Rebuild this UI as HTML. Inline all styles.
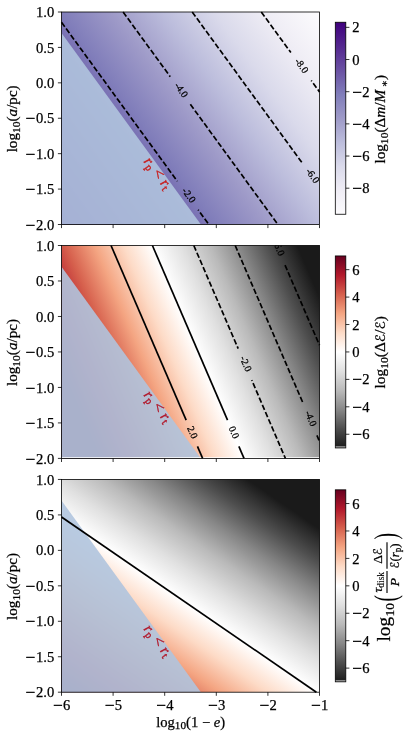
<!DOCTYPE html>
<html><head><meta charset="utf-8"><title>figure</title>
<style>html,body{margin:0;padding:0;background:#fff}svg{display:block;font-family:"Liberation Serif","DejaVu Serif",serif}text{stroke:#000;stroke-width:.25px}</style>
</head><body>
<svg width="411" height="738" viewBox="0 0 411 738">
<defs><linearGradient id="g1" gradientUnits="userSpaceOnUse" x1="228.60" y1="-109.72" x2="-40.82" y2="86.54"><stop offset="0.0000" stop-color="#fcfbfd"/><stop offset="0.1250" stop-color="#efedf5"/><stop offset="0.2500" stop-color="#dadaeb"/><stop offset="0.3750" stop-color="#bcbddc"/><stop offset="0.5000" stop-color="#9e9ac8"/><stop offset="0.6250" stop-color="#807dba"/><stop offset="0.7500" stop-color="#6a51a3"/><stop offset="0.8750" stop-color="#54278f"/><stop offset="1.0000" stop-color="#3f007d"/></linearGradient><linearGradient id="g2" gradientUnits="userSpaceOnUse" x1="260.49" y1="159.90" x2="15.97" y2="265.09"><stop offset="0.0000" stop-color="#1a1a1a"/><stop offset="0.1000" stop-color="#4d4d4d"/><stop offset="0.2000" stop-color="#878787"/><stop offset="0.3000" stop-color="#bababa"/><stop offset="0.4000" stop-color="#e0e0e0"/><stop offset="0.5000" stop-color="#ffffff"/><stop offset="0.6000" stop-color="#fddbc7"/><stop offset="0.7000" stop-color="#f4a582"/><stop offset="0.8000" stop-color="#d6604d"/><stop offset="0.9000" stop-color="#b2182b"/><stop offset="1.0000" stop-color="#67001f"/></linearGradient><linearGradient id="g3" gradientUnits="userSpaceOnUse" x1="121.19" y1="392.58" x2="-33.28" y2="617.38"><stop offset="0.0000" stop-color="#1a1a1a"/><stop offset="0.1000" stop-color="#4d4d4d"/><stop offset="0.2000" stop-color="#878787"/><stop offset="0.3000" stop-color="#bababa"/><stop offset="0.4000" stop-color="#e0e0e0"/><stop offset="0.5000" stop-color="#ffffff"/><stop offset="0.6000" stop-color="#fddbc7"/><stop offset="0.7000" stop-color="#f4a582"/><stop offset="0.8000" stop-color="#d6604d"/><stop offset="0.9000" stop-color="#b2182b"/><stop offset="1.0000" stop-color="#67001f"/></linearGradient><linearGradient id="c1" gradientUnits="userSpaceOnUse" x1="0" y1="214.25" x2="0" y2="22.25"><stop offset="0.0000" stop-color="#fcfbfd"/><stop offset="0.1250" stop-color="#efedf5"/><stop offset="0.2500" stop-color="#dadaeb"/><stop offset="0.3750" stop-color="#bcbddc"/><stop offset="0.5000" stop-color="#9e9ac8"/><stop offset="0.6250" stop-color="#807dba"/><stop offset="0.7500" stop-color="#6a51a3"/><stop offset="0.8750" stop-color="#54278f"/><stop offset="1.0000" stop-color="#3f007d"/></linearGradient><linearGradient id="c2" gradientUnits="userSpaceOnUse" x1="0" y1="447.95" x2="0" y2="255.95"><stop offset="0.0000" stop-color="#1a1a1a"/><stop offset="0.1000" stop-color="#4d4d4d"/><stop offset="0.2000" stop-color="#878787"/><stop offset="0.3000" stop-color="#bababa"/><stop offset="0.4000" stop-color="#e0e0e0"/><stop offset="0.5000" stop-color="#ffffff"/><stop offset="0.6000" stop-color="#fddbc7"/><stop offset="0.7000" stop-color="#f4a582"/><stop offset="0.8000" stop-color="#d6604d"/><stop offset="0.9000" stop-color="#b2182b"/><stop offset="1.0000" stop-color="#67001f"/></linearGradient><linearGradient id="c3" gradientUnits="userSpaceOnUse" x1="0" y1="681.83" x2="0" y2="489.83"><stop offset="0.0000" stop-color="#1a1a1a"/><stop offset="0.1000" stop-color="#4d4d4d"/><stop offset="0.2000" stop-color="#878787"/><stop offset="0.3000" stop-color="#bababa"/><stop offset="0.4000" stop-color="#e0e0e0"/><stop offset="0.5000" stop-color="#ffffff"/><stop offset="0.6000" stop-color="#fddbc7"/><stop offset="0.7000" stop-color="#f4a582"/><stop offset="0.8000" stop-color="#d6604d"/><stop offset="0.9000" stop-color="#b2182b"/><stop offset="1.0000" stop-color="#67001f"/></linearGradient><clipPath id="clip0"><rect x="61.5" y="12.0" width="258.0" height="212.5"/></clipPath><clipPath id="clip1"><rect x="61.5" y="245.5" width="258.0" height="212.9"/></clipPath><clipPath id="clip2"><rect x="61.5" y="479.45" width="258.0" height="212.75"/></clipPath></defs>
<rect width="411" height="738" fill="#fff"/>
<rect x="61.5" y="12.0" width="258.0" height="212.5" fill="url(#g1)"/>
<polygon points="61.50,33.11 200.92,224.50 61.50,224.50" fill="#b0c4de" fill-opacity="0.9"/>
<rect x="61.5" y="245.5" width="258.0" height="212.9" fill="url(#g2)"/>
<polygon points="61.50,266.65 200.92,458.40 61.50,458.40" fill="#b0c4de" fill-opacity="0.9"/>
<rect x="61.5" y="457.10" width="258.0" height="1.3" fill="#fff" fill-opacity="0.85"/>
<rect x="61.5" y="479.45" width="258.0" height="212.75" fill="url(#g3)"/>
<polygon points="61.50,500.58 200.92,692.20 61.50,692.20" fill="#b0c4de" fill-opacity="0.9"/>
<line x1="61.50" y1="22.27" x2="177.38" y2="181.34" stroke="#000" stroke-width="1.7" stroke-dasharray="5.5 2.35"/>
<line x1="198.10" y1="209.79" x2="208.82" y2="224.50" stroke="#000" stroke-width="1.7" stroke-dasharray="5.5 2.35" stroke-dashoffset="4.5"/>
<g clip-path="url(#clip0)"><text transform="translate(188.03,195.97) rotate(53.93)" x="0" y="2.20" font-size="10" text-anchor="middle">-2.0</text></g>
<line x1="123.11" y1="12.00" x2="170.22" y2="76.66" stroke="#000" stroke-width="1.7" stroke-dasharray="5.5 2.35"/>
<line x1="190.35" y1="104.31" x2="277.91" y2="224.50" stroke="#000" stroke-width="1.7" stroke-dasharray="5.5 2.35"/>
<g clip-path="url(#clip0)"><text transform="translate(180.40,90.65) rotate(53.93)" x="0" y="2.20" font-size="10" text-anchor="middle">-4.0</text></g>
<line x1="192.21" y1="12.00" x2="301.73" y2="162.34" stroke="#000" stroke-width="1.7" stroke-dasharray="5.5 2.35"/>
<g clip-path="url(#clip0)"><text transform="translate(311.85,176.24) rotate(53.93)" x="0" y="2.20" font-size="10" text-anchor="middle">-6.0</text></g>
<line x1="261.30" y1="12.00" x2="290.86" y2="52.58" stroke="#000" stroke-width="1.7" stroke-dasharray="5.5 2.35"/>
<line x1="311.23" y1="80.54" x2="319.50" y2="91.89" stroke="#000" stroke-width="1.7" stroke-dasharray="5.5 2.35" stroke-dashoffset="4.5"/>
<g clip-path="url(#clip0)"><text transform="translate(300.81,66.24) rotate(53.93)" x="0" y="2.20" font-size="10" text-anchor="middle">-8.0</text></g>
<line x1="111.03" y1="245.50" x2="186.15" y2="420.13" stroke="#000" stroke-width="1.7"/>
<line x1="197.46" y1="446.40" x2="202.62" y2="458.40" stroke="#000" stroke-width="1.7"/>
<g clip-path="url(#clip1)"><text transform="translate(191.61,432.80) rotate(66.72)" x="0" y="2.20" font-size="10" text-anchor="middle">2.0</text></g>
<line x1="152.43" y1="245.50" x2="227.55" y2="420.13" stroke="#000" stroke-width="1.7"/>
<line x1="238.85" y1="446.40" x2="244.01" y2="458.40" stroke="#000" stroke-width="1.7"/>
<g clip-path="url(#clip1)"><text transform="translate(233.00,432.80) rotate(66.72)" x="0" y="2.20" font-size="10" text-anchor="middle">0.0</text></g>
<line x1="193.82" y1="245.50" x2="238.20" y2="348.66" stroke="#000" stroke-width="1.7" stroke-dasharray="5.5 2.35"/>
<line x1="251.72" y1="380.08" x2="285.41" y2="458.40" stroke="#000" stroke-width="1.7" stroke-dasharray="5.5 2.35" stroke-dashoffset="4.5"/>
<g clip-path="url(#clip1)"><text transform="translate(244.92,364.28) rotate(66.72)" x="0" y="2.20" font-size="10" text-anchor="middle">-2.0</text></g>
<line x1="235.22" y1="245.50" x2="302.75" y2="402.49" stroke="#000" stroke-width="1.7" stroke-dasharray="5.5 2.35"/>
<line x1="316.90" y1="435.38" x2="319.50" y2="441.42" stroke="#000" stroke-width="1.7" stroke-dasharray="5.5 2.35"/>
<g clip-path="url(#clip1)"><text transform="translate(309.83,418.93) rotate(66.72)" x="0" y="2.20" font-size="10" text-anchor="middle">-4.0</text></g>
<line x1="285.03" y1="265.07" x2="319.50" y2="345.19" stroke="#000" stroke-width="1.7" stroke-dasharray="5.5 2.35"/>
<g clip-path="url(#clip1)"><text transform="translate(277.88,248.44) rotate(66.72)" x="0" y="2.20" font-size="10" text-anchor="middle">-6.0</text></g>
<line x1="61.50" y1="517.04" x2="316.40" y2="692.20" stroke="#000" stroke-width="1.7"/>
<text transform="translate(154.10,175.90) rotate(52.5)" font-size="14.6" text-anchor="middle" fill="#c81e1e" style="stroke:#c81e1e;stroke-width:.4px" textLength="36" lengthAdjust="spacing"><tspan font-style="italic">r</tspan><tspan font-size="10.5" dy="2.4">p</tspan><tspan dy="-2.4" font-size="15.5"> &lt; </tspan><tspan font-style="italic">r</tspan><tspan font-size="10.5" dy="2.4">t</tspan></text>
<text transform="translate(154.10,409.40) rotate(52.5)" font-size="14.6" text-anchor="middle" fill="#b2182b" style="stroke:#b2182b;stroke-width:.4px" textLength="36" lengthAdjust="spacing"><tspan font-style="italic">r</tspan><tspan font-size="10.5" dy="2.4">p</tspan><tspan dy="-2.4" font-size="15.5"> &lt; </tspan><tspan font-style="italic">r</tspan><tspan font-size="10.5" dy="2.4">t</tspan></text>
<text transform="translate(154.10,643.35) rotate(52.5)" font-size="14.6" text-anchor="middle" fill="#b2182b" style="stroke:#b2182b;stroke-width:.4px" textLength="36" lengthAdjust="spacing"><tspan font-style="italic">r</tspan><tspan font-size="10.5" dy="2.4">p</tspan><tspan dy="-2.4" font-size="15.5"> &lt; </tspan><tspan font-style="italic">r</tspan><tspan font-size="10.5" dy="2.4">t</tspan></text>
<rect x="61.5" y="12.0" width="258.0" height="212.5" fill="none" stroke="#000" stroke-width="0.8"/>
<text x="54.30" y="17.10" font-size="14.6" text-anchor="end" fill="#000">1.0</text>
<text x="54.30" y="52.52" font-size="14.6" text-anchor="end" fill="#000">0.5</text>
<text x="54.30" y="87.93" font-size="14.6" text-anchor="end" fill="#000">0.0</text>
<text x="54.30" y="123.35" font-size="14.6" text-anchor="end" fill="#000">0.5</text>
<text x="25.50" y="123.35" font-size="14.6" text-anchor="start" fill="#000" textLength="9.4" lengthAdjust="spacingAndGlyphs" style="stroke-width:.55px">−</text>
<text x="54.30" y="158.77" font-size="14.6" text-anchor="end" fill="#000">1.0</text>
<text x="25.50" y="158.77" font-size="14.6" text-anchor="start" fill="#000" textLength="9.4" lengthAdjust="spacingAndGlyphs" style="stroke-width:.55px">−</text>
<text x="54.30" y="194.18" font-size="14.6" text-anchor="end" fill="#000">1.5</text>
<text x="25.50" y="194.18" font-size="14.6" text-anchor="start" fill="#000" textLength="9.4" lengthAdjust="spacingAndGlyphs" style="stroke-width:.55px">−</text>
<text x="54.30" y="229.60" font-size="14.6" text-anchor="end" fill="#000">2.0</text>
<text x="25.50" y="229.60" font-size="14.6" text-anchor="start" fill="#000" textLength="9.4" lengthAdjust="spacingAndGlyphs" style="stroke-width:.55px">−</text>
<path d="M57.90 12.00H61.50M57.90 47.42H61.50M57.90 82.83H61.50M57.90 118.25H61.50M57.90 153.67H61.50M57.90 189.08H61.50M57.90 224.50H61.50M61.50 224.50V228.10M113.10 224.50V228.10M164.70 224.50V228.10M216.30 224.50V228.10M267.90 224.50V228.10M319.50 224.50V228.10" stroke="#000" stroke-width="0.8" fill="none"/>
<text transform="translate(17.4,118.85) rotate(-90)" x="-33.5" font-size="14.6" textLength="67.0" lengthAdjust="spacingAndGlyphs">log<tspan font-size="11.2" dy="2.7">10</tspan><tspan dy="-2.7">(</tspan><tspan font-style="italic">a</tspan>/pc)</text>
<rect x="61.5" y="245.5" width="258.0" height="212.9" fill="none" stroke="#000" stroke-width="0.8"/>
<text x="54.30" y="250.60" font-size="14.6" text-anchor="end" fill="#000">1.0</text>
<text x="54.30" y="286.08" font-size="14.6" text-anchor="end" fill="#000">0.5</text>
<text x="54.30" y="321.57" font-size="14.6" text-anchor="end" fill="#000">0.0</text>
<text x="54.30" y="357.05" font-size="14.6" text-anchor="end" fill="#000">0.5</text>
<text x="25.50" y="357.05" font-size="14.6" text-anchor="start" fill="#000" textLength="9.4" lengthAdjust="spacingAndGlyphs" style="stroke-width:.55px">−</text>
<text x="54.30" y="392.53" font-size="14.6" text-anchor="end" fill="#000">1.0</text>
<text x="25.50" y="392.53" font-size="14.6" text-anchor="start" fill="#000" textLength="9.4" lengthAdjust="spacingAndGlyphs" style="stroke-width:.55px">−</text>
<text x="54.30" y="428.02" font-size="14.6" text-anchor="end" fill="#000">1.5</text>
<text x="25.50" y="428.02" font-size="14.6" text-anchor="start" fill="#000" textLength="9.4" lengthAdjust="spacingAndGlyphs" style="stroke-width:.55px">−</text>
<text x="54.30" y="463.50" font-size="14.6" text-anchor="end" fill="#000">2.0</text>
<text x="25.50" y="463.50" font-size="14.6" text-anchor="start" fill="#000" textLength="9.4" lengthAdjust="spacingAndGlyphs" style="stroke-width:.55px">−</text>
<path d="M57.90 245.50H61.50M57.90 280.98H61.50M57.90 316.47H61.50M57.90 351.95H61.50M57.90 387.43H61.50M57.90 422.92H61.50M57.90 458.40H61.50M61.50 458.40V462.00M113.10 458.40V462.00M164.70 458.40V462.00M216.30 458.40V462.00M267.90 458.40V462.00M319.50 458.40V462.00" stroke="#000" stroke-width="0.8" fill="none"/>
<text transform="translate(17.4,352.55) rotate(-90)" x="-33.5" font-size="14.6" textLength="67.0" lengthAdjust="spacingAndGlyphs">log<tspan font-size="11.2" dy="2.7">10</tspan><tspan dy="-2.7">(</tspan><tspan font-style="italic">a</tspan>/pc)</text>
<rect x="61.5" y="479.45" width="258.0" height="212.75" fill="none" stroke="#000" stroke-width="0.8"/>
<text x="54.30" y="484.55" font-size="14.6" text-anchor="end" fill="#000">1.0</text>
<text x="54.30" y="520.01" font-size="14.6" text-anchor="end" fill="#000">0.5</text>
<text x="54.30" y="555.47" font-size="14.6" text-anchor="end" fill="#000">0.0</text>
<text x="54.30" y="590.93" font-size="14.6" text-anchor="end" fill="#000">0.5</text>
<text x="25.50" y="590.93" font-size="14.6" text-anchor="start" fill="#000" textLength="9.4" lengthAdjust="spacingAndGlyphs" style="stroke-width:.55px">−</text>
<text x="54.30" y="626.38" font-size="14.6" text-anchor="end" fill="#000">1.0</text>
<text x="25.50" y="626.38" font-size="14.6" text-anchor="start" fill="#000" textLength="9.4" lengthAdjust="spacingAndGlyphs" style="stroke-width:.55px">−</text>
<text x="54.30" y="661.84" font-size="14.6" text-anchor="end" fill="#000">1.5</text>
<text x="25.50" y="661.84" font-size="14.6" text-anchor="start" fill="#000" textLength="9.4" lengthAdjust="spacingAndGlyphs" style="stroke-width:.55px">−</text>
<text x="54.30" y="697.30" font-size="14.6" text-anchor="end" fill="#000">2.0</text>
<text x="25.50" y="697.30" font-size="14.6" text-anchor="start" fill="#000" textLength="9.4" lengthAdjust="spacingAndGlyphs" style="stroke-width:.55px">−</text>
<text x="53.10" y="709.60" font-size="14.6" text-anchor="start" fill="#000" textLength="9.4" lengthAdjust="spacingAndGlyphs" style="stroke-width:.55px">−</text>
<text x="63.10" y="709.60" font-size="14.6" text-anchor="start" fill="#000">6</text>
<text x="104.70" y="709.60" font-size="14.6" text-anchor="start" fill="#000" textLength="9.4" lengthAdjust="spacingAndGlyphs" style="stroke-width:.55px">−</text>
<text x="114.70" y="709.60" font-size="14.6" text-anchor="start" fill="#000">5</text>
<text x="156.30" y="709.60" font-size="14.6" text-anchor="start" fill="#000" textLength="9.4" lengthAdjust="spacingAndGlyphs" style="stroke-width:.55px">−</text>
<text x="166.30" y="709.60" font-size="14.6" text-anchor="start" fill="#000">4</text>
<text x="207.90" y="709.60" font-size="14.6" text-anchor="start" fill="#000" textLength="9.4" lengthAdjust="spacingAndGlyphs" style="stroke-width:.55px">−</text>
<text x="217.90" y="709.60" font-size="14.6" text-anchor="start" fill="#000">3</text>
<text x="259.50" y="709.60" font-size="14.6" text-anchor="start" fill="#000" textLength="9.4" lengthAdjust="spacingAndGlyphs" style="stroke-width:.55px">−</text>
<text x="269.50" y="709.60" font-size="14.6" text-anchor="start" fill="#000">2</text>
<text x="311.10" y="709.60" font-size="14.6" text-anchor="start" fill="#000" textLength="9.4" lengthAdjust="spacingAndGlyphs" style="stroke-width:.55px">−</text>
<text x="321.10" y="709.60" font-size="14.6" text-anchor="start" fill="#000">1</text>
<path d="M57.90 479.45H61.50M57.90 514.91H61.50M57.90 550.37H61.50M57.90 585.83H61.50M57.90 621.28H61.50M57.90 656.74H61.50M57.90 692.20H61.50M61.50 692.20V695.80M113.10 692.20V695.80M164.70 692.20V695.80M216.30 692.20V695.80M267.90 692.20V695.80M319.50 692.20V695.80" stroke="#000" stroke-width="0.8" fill="none"/>
<text transform="translate(17.4,586.43) rotate(-90)" x="-33.5" font-size="14.6" textLength="67.0" lengthAdjust="spacingAndGlyphs">log<tspan font-size="11.2" dy="2.7">10</tspan><tspan dy="-2.7">(</tspan><tspan font-style="italic">a</tspan>/pc)</text>
<rect x="335.3" y="22.25" width="10.50" height="192.0" fill="url(#c1)" stroke="#000" stroke-width="0.8"/>
<text x="352.20" y="32.45" font-size="14.6" text-anchor="start" fill="#000">2</text>
<text x="352.20" y="64.62" font-size="14.6" text-anchor="start" fill="#000">0</text>
<text x="352.20" y="96.79" font-size="14.6" text-anchor="start" fill="#000" textLength="9.4" lengthAdjust="spacingAndGlyphs" style="stroke-width:.55px">−</text>
<text x="362.20" y="96.79" font-size="14.6" text-anchor="start" fill="#000">2</text>
<text x="352.20" y="128.96" font-size="14.6" text-anchor="start" fill="#000" textLength="9.4" lengthAdjust="spacingAndGlyphs" style="stroke-width:.55px">−</text>
<text x="362.20" y="128.96" font-size="14.6" text-anchor="start" fill="#000">4</text>
<text x="352.20" y="161.12" font-size="14.6" text-anchor="start" fill="#000" textLength="9.4" lengthAdjust="spacingAndGlyphs" style="stroke-width:.55px">−</text>
<text x="362.20" y="161.12" font-size="14.6" text-anchor="start" fill="#000">6</text>
<text x="352.20" y="193.29" font-size="14.6" text-anchor="start" fill="#000" textLength="9.4" lengthAdjust="spacingAndGlyphs" style="stroke-width:.55px">−</text>
<text x="362.20" y="193.29" font-size="14.6" text-anchor="start" fill="#000">8</text>
<path d="M345.80 27.35h3.6M345.80 59.52h3.6M345.80 91.69h3.6M345.80 123.86h3.6M345.80 156.02h3.6M345.80 188.19h3.6" stroke="#000" stroke-width="0.8" fill="none"/>
<rect x="335.3" y="255.95" width="10.50" height="192.0" fill="url(#c2)" stroke="#000" stroke-width="0.8"/>
<rect x="335.7" y="446.05" width="9.70" height="1.5" fill="#8c8c8c"/>
<rect x="335.7" y="445.05" width="9.70" height="1.0" fill="#222"/>
<text x="352.20" y="274.76" font-size="14.6" text-anchor="start" fill="#000">6</text>
<text x="352.20" y="302.19" font-size="14.6" text-anchor="start" fill="#000">4</text>
<text x="352.20" y="329.62" font-size="14.6" text-anchor="start" fill="#000">2</text>
<text x="352.20" y="357.05" font-size="14.6" text-anchor="start" fill="#000">0</text>
<text x="352.20" y="384.48" font-size="14.6" text-anchor="start" fill="#000" textLength="9.4" lengthAdjust="spacingAndGlyphs" style="stroke-width:.55px">−</text>
<text x="362.20" y="384.48" font-size="14.6" text-anchor="start" fill="#000">2</text>
<text x="352.20" y="411.91" font-size="14.6" text-anchor="start" fill="#000" textLength="9.4" lengthAdjust="spacingAndGlyphs" style="stroke-width:.55px">−</text>
<text x="362.20" y="411.91" font-size="14.6" text-anchor="start" fill="#000">4</text>
<text x="352.20" y="439.34" font-size="14.6" text-anchor="start" fill="#000" textLength="9.4" lengthAdjust="spacingAndGlyphs" style="stroke-width:.55px">−</text>
<text x="362.20" y="439.34" font-size="14.6" text-anchor="start" fill="#000">6</text>
<path d="M345.80 269.66h3.6M345.80 297.09h3.6M345.80 324.52h3.6M345.80 351.95h3.6M345.80 379.38h3.6M345.80 406.81h3.6M345.80 434.24h3.6" stroke="#000" stroke-width="0.8" fill="none"/>
<rect x="335.3" y="489.83" width="10.50" height="192.0" fill="url(#c3)" stroke="#000" stroke-width="0.8"/>
<rect x="335.7" y="679.93" width="9.70" height="1.5" fill="#8c8c8c"/>
<rect x="335.7" y="678.93" width="9.70" height="1.0" fill="#222"/>
<text x="352.20" y="508.64" font-size="14.6" text-anchor="start" fill="#000">6</text>
<text x="352.20" y="536.07" font-size="14.6" text-anchor="start" fill="#000">4</text>
<text x="352.20" y="563.50" font-size="14.6" text-anchor="start" fill="#000">2</text>
<text x="352.20" y="590.93" font-size="14.6" text-anchor="start" fill="#000">0</text>
<text x="352.20" y="618.35" font-size="14.6" text-anchor="start" fill="#000" textLength="9.4" lengthAdjust="spacingAndGlyphs" style="stroke-width:.55px">−</text>
<text x="362.20" y="618.35" font-size="14.6" text-anchor="start" fill="#000">2</text>
<text x="352.20" y="645.78" font-size="14.6" text-anchor="start" fill="#000" textLength="9.4" lengthAdjust="spacingAndGlyphs" style="stroke-width:.55px">−</text>
<text x="362.20" y="645.78" font-size="14.6" text-anchor="start" fill="#000">4</text>
<text x="352.20" y="673.21" font-size="14.6" text-anchor="start" fill="#000" textLength="9.4" lengthAdjust="spacingAndGlyphs" style="stroke-width:.55px">−</text>
<text x="362.20" y="673.21" font-size="14.6" text-anchor="start" fill="#000">6</text>
<path d="M345.80 503.54h3.6M345.80 530.97h3.6M345.80 558.40h3.6M345.80 585.83h3.6M345.80 613.25h3.6M345.80 640.68h3.6M345.80 668.11h3.6" stroke="#000" stroke-width="0.8" fill="none"/>
<text transform="translate(385.0,119.25) rotate(-90)" x="-44.3" font-size="14.6" textLength="88.6" lengthAdjust="spacingAndGlyphs">log<tspan font-size="11.2" dy="2.7">10</tspan><tspan dy="-2.7">(Δ</tspan><tspan font-style="italic">m</tspan>/<tspan font-style="italic">M</tspan><tspan font-size="10.22" dy="2.7"> ∗</tspan><tspan dy="-2.7">)</tspan></text>
<text transform="translate(385.0,352.25) rotate(-90)" x="-36.15" font-size="14.6" textLength="72.3" lengthAdjust="spacingAndGlyphs">log<tspan font-size="11.2" dy="2.7">10</tspan><tspan dy="-2.7">(Δ</tspan><tspan font-family="'DejaVu Sans',sans-serif" font-style="italic" font-size="13.2">ℰ</tspan>/<tspan font-family="'DejaVu Sans',sans-serif" font-style="italic" font-size="13.2">ℰ</tspan>)</text>
<text x="156.20" y="726.6" font-size="14.6" textLength="69.0" lengthAdjust="spacingAndGlyphs">log<tspan font-size="11.2" dy="2.7">10</tspan><tspan dy="-2.7">(1 − </tspan><tspan font-style="italic">e</tspan>)</text>
<g transform="translate(390.3,587) rotate(-90)"><text x="-54.6" y="0" font-size="19.3">log</text><text x="-29.4" y="3.8" font-size="13.5">10</text><text transform="translate(-14.6,5.6) scale(0.6,1)" font-size="32.5" style="stroke-width:0">(</text><text transform="translate(47.6,5.6) scale(0.6,1)" font-size="32.5" style="stroke-width:0">)</text><path d="M-6 -3.3H15.9M18.2 -3.3H44.7" stroke="#000" stroke-width="1.15" fill="none"/><text x="-5.6" y="-8.5" font-size="13.5"><tspan font-style="italic">τ</tspan><tspan font-size="9.5" dy="2.4" style="stroke-width:.1px">disk</tspan></text><text x="4.95" y="8.6" font-size="13.5" font-style="italic" text-anchor="middle">P</text><text x="23.2" y="-8.2" font-size="13.5">Δ<tspan font-family="'DejaVu Sans',sans-serif" font-style="italic" font-size="12.15">ℰ</tspan></text><text x="18.4" y="8.6" font-size="13.5" textLength="25.2" lengthAdjust="spacingAndGlyphs"><tspan font-family="'DejaVu Sans',sans-serif" font-style="italic" font-size="12.15">ℰ</tspan>(<tspan font-style="italic">r</tspan><tspan font-size="9.5" dy="2.2">p</tspan><tspan dy="-2.2">)</tspan></text></g>
</svg>
</body></html>
